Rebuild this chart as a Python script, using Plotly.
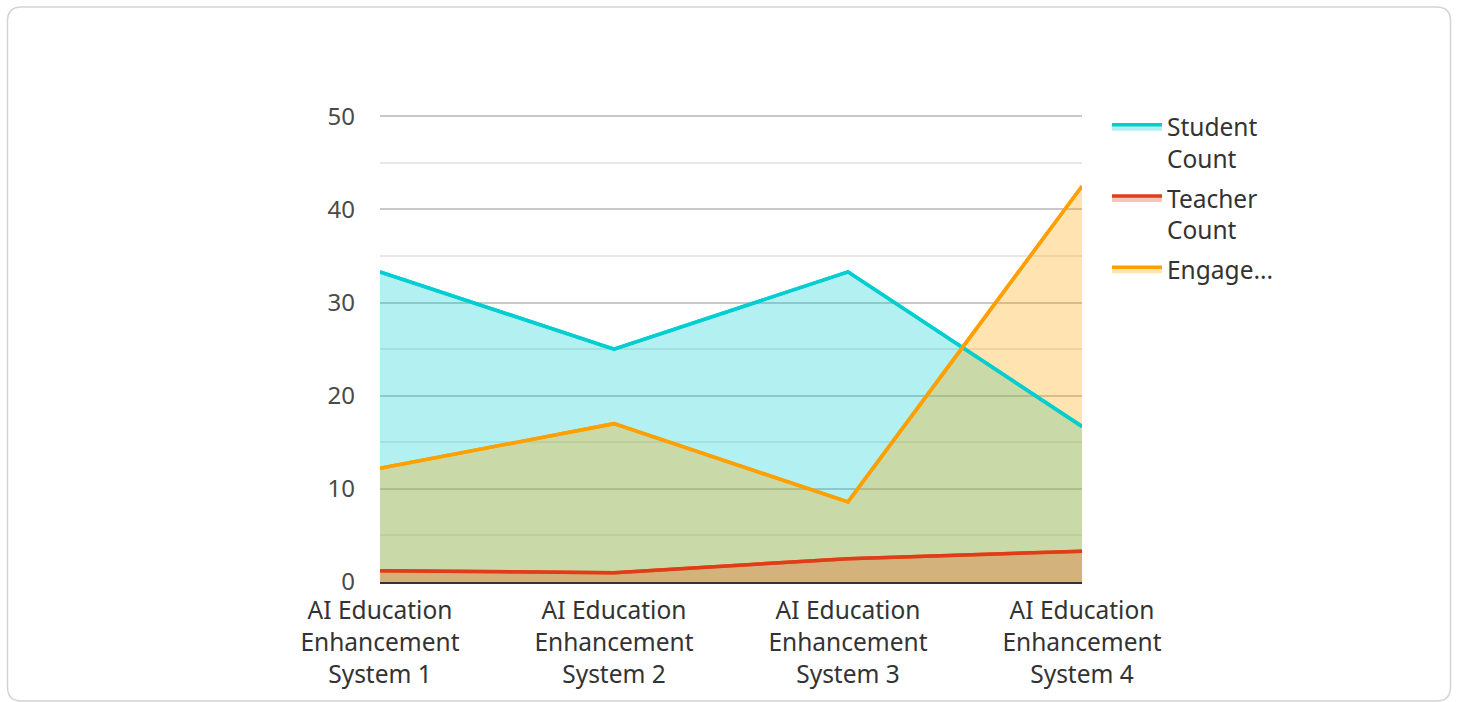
import plotly.graph_objects as go

categories = ["AI Education<br>Enhancement<br>System 1", "AI Education<br>Enhancement<br>System 2",
              "AI Education<br>Enhancement<br>System 3", "AI Education<br>Enhancement<br>System 4"]
series_names = ["Student<br>Count", "Teacher<br>Count", "Engage..."]
student_count = [33.3, 25.0, 33.3, 16.7]
teacher_count = [1.2, 1.0, 2.5, 3.3]
engagement = [12.2, 17.0, 8.6, 42.5]
y_ticks = [0, 10, 20, 30, 40, 50]
y_minor_ticks = [5, 15, 25, 35, 45]

line_colors = ["#00CED1", "#E03C1A", "#FFA000"]
fill_colors = ["rgba(0,206,209,0.3)", "rgba(224,60,26,0.3)", "rgba(255,165,0,0.3)"]

W, H = 1458, 702
Y_MAX = 51.0
PX_PER_UNIT = (582 - 116) / 50.0
L, R, B = 380, 1082, 582
T = B - PX_PER_UNIT * Y_MAX

all_series = [student_count, teacher_count, engagement]

fig = go.Figure()
# filled areas (with legend entries)
for i, (name, vals, lc, fc) in enumerate(zip(series_names, all_series, line_colors, fill_colors)):
    fig.add_trace(go.Scatter(x=categories, y=vals, name=name, mode="lines", legendgroup=f"g{i}",
                             line=dict(color=lc, width=3.5), fill="tozeroy", fillcolor=fc))
# lines drawn above all fills
for i, (name, vals, lc) in enumerate(zip(series_names, all_series, line_colors)):
    fig.add_trace(go.Scatter(x=categories, y=vals, name=name, mode="lines", legendgroup=f"g{i}",
                             showlegend=False, line=dict(color=lc, width=3.5)))

def px_to_paper(x, y):
    return (x - L) / (R - L), (B - y) / (B - T)

def rounded_rect(x0, y0, x1, y1, r):
    def P(x, y):
        px, py = px_to_paper(x, y)
        return f"{px:.5f},{py:.5f}"
    d = f"M {P(x0 + r, y0)} L {P(x1 - r, y0)} Q {P(x1, y0)} {P(x1, y0 + r)} "
    d += f"L {P(x1, y1 - r)} Q {P(x1, y1)} {P(x1 - r, y1)} L {P(x0 + r, y1)} "
    d += f"Q {P(x0, y1)} {P(x0, y1 - r)} L {P(x0, y0 + r)} Q {P(x0, y0)} {P(x0 + r, y0)} Z"
    return d

fig.add_shape(type="path", xref="paper", yref="paper", path=rounded_rect(7.5, 6.5, 1450.5, 701, 14),
              line=dict(color="#d4d4d4", width=1.5), layer="below")

leg_x, leg_y = px_to_paper(1107, 104)

fig.update_layout(
    width=W, height=H,
    margin=dict(l=L, r=W - R, t=T, b=H - B),
    paper_bgcolor="white", plot_bgcolor="white",
    font=dict(family="Noto Sans", size=24, color="#333333"),
    showlegend=True,
    legend=dict(x=leg_x, y=leg_y, xanchor="left", yanchor="top", valign="top",
                font=dict(size=24.5, color="#333333"), tracegroupgap=4.5,
                itemwidth=50),
    xaxis=dict(showgrid=False, showline=True, linecolor="#333333", linewidth=2,
               ticks="", tickfont=dict(size=24.5, color="#333333"), range=[0, 3],
               zeroline=False, fixedrange=True, ticklabelstandoff=6),
    yaxis=dict(range=[0, Y_MAX], tickvals=y_ticks, showgrid=True,
               gridcolor="#c8c8c8", gridwidth=1.5,
               minor=dict(tickvals=y_minor_ticks, showgrid=True, gridcolor="#e8e8e8", gridwidth=1.5),
               showline=False, zeroline=False, ticks="",
               tickfont=dict(size=24, color="#4a4a4a"), ticklabelstandoff=24),
)

fig.write_html("out.html", config={"displayModeBar": False},
               post_script="document.body.style.margin='0';")
